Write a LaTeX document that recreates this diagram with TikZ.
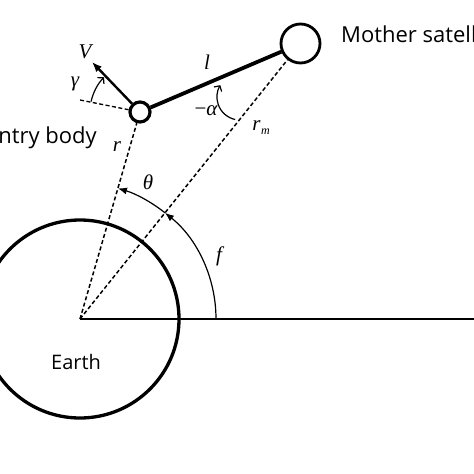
\documentclass[tikz,border=0pt]{standalone}
\usepackage{fontspec}
\setmainfont{Open Sans}
\newfontfamily\labfont{Liberation Serif}
\usetikzlibrary{arrows.meta,calc}
\begin{document}
\begin{tikzpicture}[x=1pt,y=-1pt,
  dashline/.style={line width=1.5pt, dash pattern=on 4pt off 2.5pt},
  filledarc/.style={line width=1.2pt,-{Latex[length=9pt,width=7pt]}},
  barbarc/.style={line width=1.2pt,-{Straight Barb[length=4pt,width=9pt]}},
  mlabel/.style={font=\labfont\itshape\fontsize{21}{21}\selectfont, inner sep=0pt},
  tlabel/.style={font=\fontsize{22}{22}\selectfont, inner sep=0pt},
  body/.style={circle, draw, line width=3.2pt, inner sep=0pt}]
\useasboundingbox (0,0) rectangle (474,474);
% Earth
\coordinate (O) at (80,319);
\coordinate (xend) at (474,319);
\draw[line width=3.3pt] (O) circle[radius=99];
\draw[line width=1.6pt] (O) -- (xend);
% bodies
\node[body, minimum size=20pt] (eb) at (140,112) {};
\node[body, minimum size=39pt, line width=2.8pt] (ms) at (300.5,43.5) {};
% lines
\draw[dashline] (O) -- (eb);
\draw[dashline] (O) -- (ms);
\draw[line width=3.8pt] (eb) -- (ms);
\coordinate (hz) at (80,100);
\draw[dashline, line width=1.3pt] (eb) -- (hz);
\coordinate (Vtip) at (92,62);
\draw[line width=2.4pt, -{Latex[length=10pt,width=8pt]}] (eb) -- (Vtip);
% angle arcs
\draw[filledarc] ($(O)+(0:136)$) arc[start angle=0, end angle=-51.35, radius=136];
\draw[filledarc] ($(O)+(-51.35:136)$) arc[start angle=-51.35, end angle=-73.8, radius=136];
\draw[barbarc] ($(eb)+(-168:50)$) arc[start angle=-168, end angle=-136, radius=50];
\coordinate (a1) at (235.2,119.5);
\draw[barbarc] (a1) arc[start angle=102, end angle=211, radius=23];
% labels
\node[mlabel] (lV) at (85,52) {V};
\node[mlabel] (lg) at (75,84) {γ};
\node[mlabel] (ll) at (207,62) {l};
\node[mlabel] (la) at (206,111) {{\upshape −}α};
\node[mlabel] (lrm) at (261,128) {r\kern0.5pt\raisebox{-4pt}{\fontsize{12}{12}\selectfont m}};
\node[mlabel] (lr) at (117,147) {r};
\node[mlabel] (lt) at (148,182) {θ};
\node[mlabel] (lf) at (219,256) {f};
\node[tlabel, anchor=base west] (tms) at (341,42) {Mother satellite};
\node[tlabel, anchor=base east] (teb) at (97,143) {Entry body};
\node[font=\fontsize{20}{20}\selectfont, inner sep=0pt, anchor=base west] (tE) at (51,369) {Earth};
\end{tikzpicture}
\end{document}
